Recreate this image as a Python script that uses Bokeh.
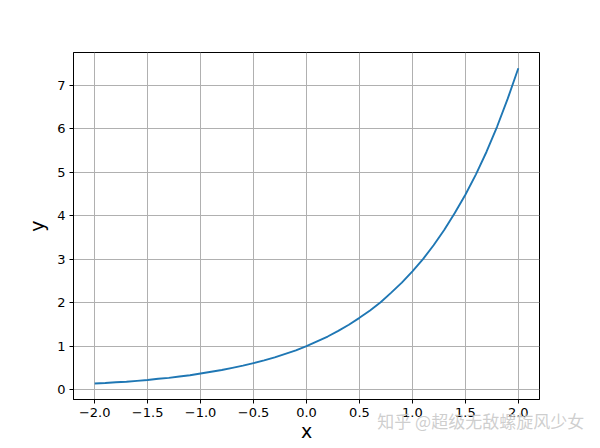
from bokeh.plotting import figure
from bokeh.models import Range1d, FixedTicker, LinearAxis
from bokeh.embed import file_html
from bokeh.resources import INLINE

# values
xs = [-2.0, -1.9, -1.8, -1.7, -1.6, -1.5, -1.4, -1.3, -1.2, -1.1, -1.0,
      -0.9, -0.8, -0.7, -0.6, -0.5, -0.4, -0.3, -0.2, -0.1, 0.0,
      0.1, 0.2, 0.3, 0.4, 0.5, 0.6, 0.7, 0.8, 0.9, 1.0,
      1.1, 1.2, 1.3, 1.4, 1.5, 1.6, 1.7, 1.8, 1.9, 2.0]
ys = [0.14, 0.15, 0.17, 0.18, 0.20, 0.22, 0.25, 0.27, 0.30, 0.33, 0.37,
      0.41, 0.45, 0.50, 0.55, 0.61, 0.67, 0.74, 0.82, 0.90, 1.00,
      1.11, 1.22, 1.35, 1.49, 1.65, 1.82, 2.01, 2.23, 2.46, 2.72,
      3.00, 3.32, 3.67, 4.06, 4.48, 4.95, 5.47, 6.05, 6.69, 7.39]

x_ticks = [-2.0, -1.5, -1.0, -0.5, 0.0, 0.5, 1.0, 1.5, 2.0]
x_tick_labels = ["\u22122.0", "\u22121.5", "\u22121.0", "\u22120.5", "0.0", "0.5", "1.0", "1.5", "2.0"]
y_ticks = [0, 1, 2, 3, 4, 5, 6, 7]
y_tick_labels = ["0", "1", "2", "3", "4", "5", "6", "7"]
x_label = "x"
y_label = "y"
watermark = "知乎 @超级无敌螺旋风少女"
watermark_anchor = 1.645  # horizontal anchor of the watermark, in x units

p = figure(width=600, height=448, output_backend="svg", toolbar_location=None,
           x_range=Range1d(-2.2, 2.2), y_range=Range1d(-0.228, 7.752),
           min_border_left=73, min_border_right=61, min_border_top=52, min_border_bottom=49)

p.line(xs, ys, line_color="#1f77b4", line_width=1.9)

p.outline_line_color = "black"
p.outline_line_width = 1
p.outline_line_alpha = 1

for ax, ticks, labels in ((p.xaxis[0], x_ticks, x_tick_labels), (p.yaxis[0], y_ticks, y_tick_labels)):
    ax.ticker = FixedTicker(ticks=ticks)
    ax.major_label_overrides = {t: l for t, l in zip(ticks, labels)}
    ax.major_tick_out = 4
    ax.major_tick_in = 0
    ax.minor_tick_line_color = None
    ax.major_tick_line_color = "black"
    ax.axis_line_color = "black"
    ax.major_label_text_font = "DejaVu Sans"
    ax.major_label_text_font_size = "13px"
    ax.major_label_text_color = "black"
    ax.major_label_standoff = 4
    ax.axis_label_text_font = "DejaVu Sans"
    ax.axis_label_text_font_size = "19px"
    ax.axis_label_text_font_style = "normal"
    ax.axis_label_text_color = "black"

p.xaxis[0].axis_label = x_label
p.xaxis[0].axis_label_standoff = 0
p.yaxis[0].axis_label = y_label
p.yaxis[0].axis_label_standoff = 6

# watermark drawn as the single tick label of an extra, otherwise invisible axis
wm = LinearAxis(ticker=FixedTicker(ticks=[watermark_anchor]),
                major_label_overrides={watermark_anchor: watermark},
                axis_line_color=None, major_tick_line_color=None, minor_tick_line_color=None,
                major_tick_out=0, major_tick_in=0, major_label_standoff=-37,
                major_label_text_font="Noto Sans CJK SC", major_label_text_font_size="17px",
                major_label_text_color="#c6c6c6", major_label_text_alpha=0.85)
p.add_layout(wm, "below")

p.xgrid.ticker = FixedTicker(ticks=x_ticks)
p.ygrid.ticker = FixedTicker(ticks=y_ticks)
for g in (p.xgrid[0], p.ygrid[0]):
    g.grid_line_color = "#b0b0b0"
    g.grid_line_width = 1
    g.grid_line_alpha = 1

p.background_fill_color = "white"
p.border_fill_color = "white"

open("out.html", "w").write(file_html(p, INLINE))
